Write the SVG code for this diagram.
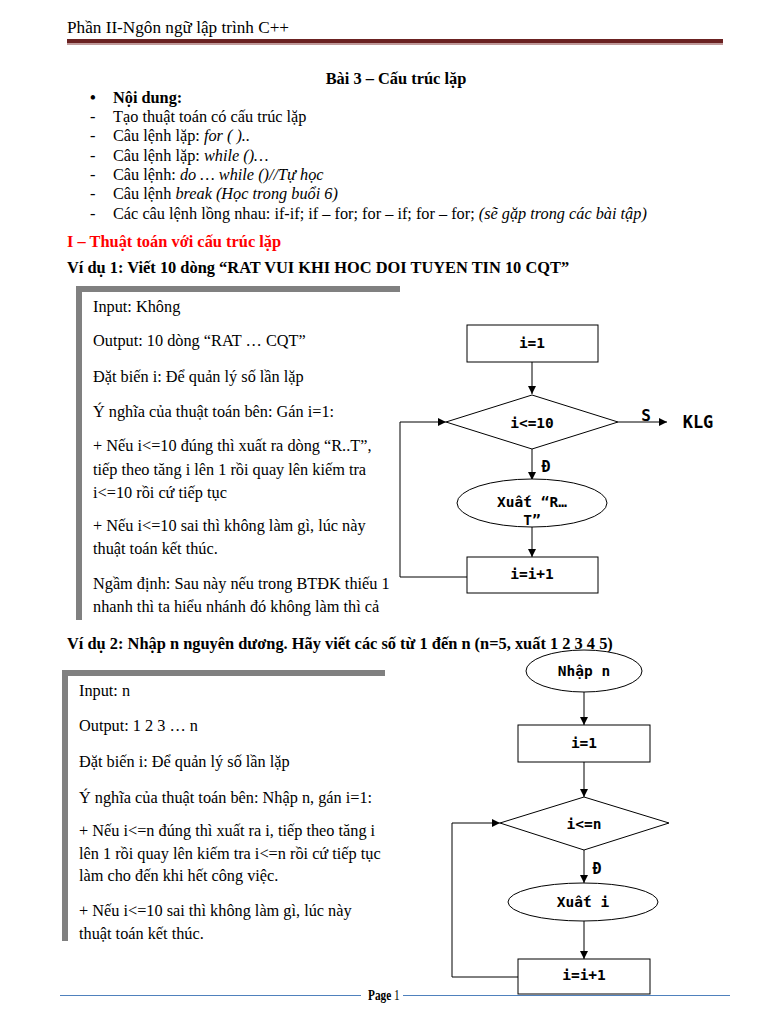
<svg xmlns="http://www.w3.org/2000/svg" width="768" height="1024" viewBox="0 0 768 1024">
<defs>
<marker id="ah" viewBox="0 0 10 10" refX="10" refY="5" markerWidth="8" markerHeight="8" markerUnits="userSpaceOnUse" orient="auto"><path d="M0,0 L10,5 L0,10 z" fill="#000"/></marker>
<style>
.t{font-family:"Liberation Serif","Times New Roman",serif;font-size:16.3px;fill:#000}
.h{font-size:16.4px}
.b{font-weight:bold}
.i{font-style:italic}
.m{font-family:"DejaVu Sans Mono","Liberation Mono",monospace;font-size:14.5px;font-weight:bold;fill:#000;text-anchor:middle}
.shape{fill:#fff;stroke:#000;stroke-width:1}
.conn{fill:none;stroke:#000;stroke-width:1}
.bar{fill:#808080}
</style>
</defs>
<rect width="768" height="1024" fill="#fff"/>
<!-- header -->
<text x="67" y="33" class="t" style="font-size:17.2px">Phần II-Ngôn ngữ lập trình C++</text>
<rect x="67" y="39" width="656" height="4" fill="#6b2222"/>
<rect x="67" y="43" width="656" height="2" fill="#c09a9a"/>
<!-- intro -->
<text x="396" y="84" class="t b h" text-anchor="middle">Bài 3 – Cấu trúc lặp</text>
<text x="90" y="103" class="t b">•</text>
<text x="113" y="103" class="t b">Nội dung:</text>
<g class="t">
<text x="90" y="122">-</text><text x="113" y="122">Tạo thuật toán có cấu trúc lặp</text>
<text x="90" y="141">-</text><text x="113" y="141">Câu lệnh lặp: <tspan class="i">for ( )..</tspan></text>
<text x="90" y="161">-</text><text x="113" y="161">Câu lệnh lặp: <tspan class="i">while ()…</tspan></text>
<text x="90" y="180">-</text><text x="113" y="180">Câu lệnh: <tspan class="i">do … while ()//Tự học</tspan></text>
<text x="90" y="199">-</text><text x="113" y="199">Câu lệnh <tspan class="i">break (Học trong buổi 6)</tspan></text>
<text x="90" y="219">-</text><text x="113" y="219">Các câu lệnh lồng nhau: if-if; if – for; for – if; for – for; <tspan class="i">(sẽ gặp trong các bài tập)</tspan></text>
</g>
<text x="67" y="247" class="t b h" style="fill:#ff0000">I – Thuật toán với cấu trúc lặp</text>
<text x="67" y="273" class="t b h">Ví dụ 1: Viết 10 dòng “RAT VUI KHI HOC DOI TUYEN TIN 10 CQT”</text>
<!-- box 1 -->
<g id="box1">
<rect x="76" y="286" width="324" height="6" class="bar"/>
<rect x="76" y="286" width="6" height="334" class="bar"/>
<g class="t">
<text x="93" y="312">Input: Không</text>
<text x="93" y="346">Output: 10 dòng “RAT … CQT”</text>
<text x="93" y="382">Đặt biến i: Để quản lý số lần lặp</text>
<text x="93" y="417">Ý nghĩa của thuật toán bên: Gán i=1:</text>
<text x="93" y="451">+ Nếu i&lt;=10 đúng thì xuất ra dòng “R..T”,</text>
<text x="93" y="475">tiếp theo tăng i lên 1 rồi quay lên kiếm tra</text>
<text x="93" y="498">i&lt;=10 rồi cứ tiếp tục</text>
<text x="93" y="531">+ Nếu i&lt;=10 sai thì không làm gì, lúc này</text>
<text x="93" y="554">thuật toán kết thúc.</text>
<text x="93" y="589">Ngầm định: Sau này nếu trong BTĐK thiếu 1</text>
<text x="93" y="612">nhanh thì ta hiểu nhánh đó không làm thì cả</text>
</g>
</g>
<!-- flowchart 1 connectors -->
<g id="connectors1">
<line x1="532" y1="362" x2="532" y2="394" class="conn" marker-end="url(#ah)"/>
<line x1="618" y1="422" x2="667" y2="422" class="conn" marker-end="url(#ah)"/>
<line x1="532" y1="449" x2="532" y2="480" class="conn" marker-end="url(#ah)"/>
<line x1="532" y1="527" x2="532" y2="557" class="conn" marker-end="url(#ah)"/>
<polyline points="467,577 400,577 400,422 446,422" class="conn" marker-end="url(#ah)"/>
<text x="646" y="421" class="m" style="font-size:16px">S</text>
<text x="546" y="472" class="m" style="font-size:15px">Đ</text>
</g>
<g id="f1_init"><rect x="467" y="325" width="131" height="37" class="shape"/><text x="532" y="348" class="m">i=1</text></g>
<g id="f1_cond"><polygon points="532,395 618,422 532,449 446,422" class="shape"/><text x="532" y="428" class="m">i&lt;=10</text></g>
<g id="f1_klg"><text x="698" y="428" class="m" style="font-size:17px">KLG</text></g>
<g id="f1_out"><ellipse cx="532" cy="503" rx="75" ry="24" class="shape"/><text x="532" y="507" class="m">Xuất “R…</text><text x="532" y="525" class="m">T”</text></g>
<g id="f1_inc"><rect x="467" y="557" width="131" height="36" class="shape"/><text x="532" y="579" class="m">i=i+1</text></g>
<!-- example 2 -->
<text x="67" y="649" class="t b h">Ví dụ 2: Nhập n nguyên dương. Hãy viết các số từ 1 đến n (n=5, xuất 1 2 3 4 5)</text>
<g id="box2">
<rect x="62" y="670" width="323" height="6" class="bar"/>
<rect x="62" y="670" width="6" height="271" class="bar"/>
<g class="t">
<text x="79" y="696">Input: n</text>
<text x="79" y="731">Output: 1 2 3 … n</text>
<text x="79" y="767">Đặt biến i: Để quản lý số lần lặp</text>
<text x="79" y="803">Ý nghĩa của thuật toán bên: Nhập n, gán i=1:</text>
<text x="79" y="836">+ Nếu i&lt;=n đúng thì xuất ra i, tiếp theo tăng i</text>
<text x="79" y="859">lên 1 rồi quay lên kiếm tra i&lt;=n rồi cứ tiếp tục</text>
<text x="79" y="881">làm cho đến khi hết công việc.</text>
<text x="79" y="916">+ Nếu i&lt;=10 sai thì không làm gì, lúc này</text>
<text x="79" y="939">thuật toán kết thúc.</text>
</g>
</g>
<g id="connectors2">
<line x1="584" y1="692" x2="584" y2="725" class="conn" marker-end="url(#ah)"/>
<line x1="584" y1="762" x2="584" y2="797" class="conn" marker-end="url(#ah)"/>
<line x1="584" y1="850" x2="584" y2="883" class="conn" marker-end="url(#ah)"/>
<line x1="584" y1="921" x2="584" y2="959" class="conn" marker-end="url(#ah)"/>
<polyline points="518,977 452,977 452,823 500,823" class="conn" marker-end="url(#ah)"/>
<text x="597" y="874" class="m" style="font-size:15px">Đ</text>
</g>
<g id="f2_in"><ellipse cx="584" cy="671" rx="58" ry="21" class="shape"/><text x="584" y="676" class="m">Nhập n</text></g>
<g id="f2_init"><rect x="518" y="725" width="132" height="37" class="shape"/><text x="584" y="748" class="m">i=1</text></g>
<g id="f2_cond"><polygon points="584,797 669,823 584,850 500,823" class="shape"/><text x="584" y="829" class="m">i&lt;=n</text></g>
<g id="f2_out"><ellipse cx="583" cy="902" rx="75" ry="19" class="shape"/><text x="583" y="907" class="m">Xuất i</text></g>
<g id="f2_inc"><rect x="518" y="959" width="132" height="35" class="shape"/><text x="584" y="980" class="m">i=i+1</text></g>
<!-- footer -->
<line x1="60" y1="995.5" x2="361" y2="995.5" stroke="#4f81bd" stroke-width="1"/>
<line x1="403" y1="995.5" x2="730" y2="995.5" stroke="#4f81bd" stroke-width="1"/>
<text transform="translate(368,1000) scale(0.78,1)" class="t b" style="font-size:14.5px">Page <tspan font-weight="normal">1</tspan></text>
</svg>
